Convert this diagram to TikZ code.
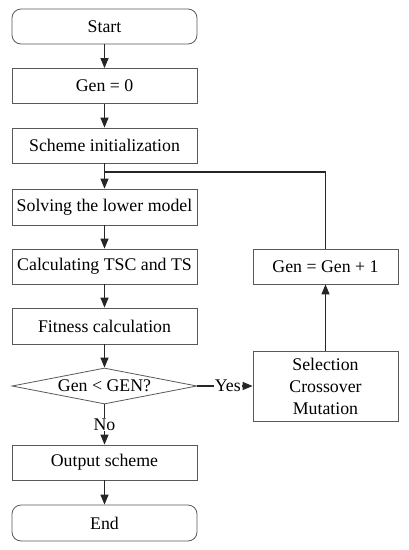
\documentclass[tikz,border=0pt]{standalone}
\usepackage{fontspec}
\setmainfont{Liberation Serif}
\usetikzlibrary{arrows.meta,shapes.geometric}
\begin{document}
\begin{tikzpicture}[x=1pt,y=-1pt,
  font=\fontsize{17.8}{22}\selectfont,
  box/.style={draw=black!65,line width=0.8pt,minimum width=185pt,minimum height=35pt,inner sep=0pt,align=center},
  term/.style={box,rounded corners=9pt},
  rbox/.style={box,minimum width=145pt},
  dec/.style={diamond,draw=black!65,line width=0.8pt,minimum width=185pt,minimum height=36pt,aspect=5.14,inner sep=0pt},
  conn/.style={draw=black!85,line width=1.2pt,-{Triangle[length=10pt,width=8pt]}},
  line/.style={draw=black!85,line width=1.2pt},
  lab/.style={fill=white,inner sep=1pt}]
\useasboundingbox (0,0) rectangle (408,550);
\node[term] (start) at (104.5,26.5) {Start};
\node[box] (gen0) at (104.5,86) {Gen = 0};
\node[box] (init) at (104.5,145.5) {Scheme initialization};
\node[box,minimum height=36pt] (solve) at (104.5,207) {Solving the lower model};
\node[box] (calc) at (104.5,266.5) {Calculating TSC and TS};
\node[box,minimum height=36pt] (fit) at (104.5,326) {Fitness calculation};
\node[dec] (cond) at (104.5,386) {Gen < GEN?};
\node[box] (out) at (104.5,462.5) {Output scheme};
\node[term,minimum height=36pt] (end) at (104.5,523) {End};
\node[rbox] (inc) at (325.5,266.5) {Gen = Gen + 1};
\node[rbox,minimum height=70pt] (sel) at (325.5,386) {Selection\\Crossover\\Mutation};
\coordinate (join) at (104.5,172);
\draw[conn] (start) -- (gen0);
\draw[conn] (gen0) -- (init);
\draw[conn] (init) -- (solve);
\draw[line] (inc.north) |- (join);
\draw[conn] (solve) -- (calc);
\draw[conn] (calc) -- (fit);
\draw[conn] (fit) -- (cond);
\draw[conn] (cond.east) -- node[lab,pos=0.55] {Yes} (sel.west);
\draw[conn] (cond.south) -- node[lab,pos=0.5] {No} (out.north);
\draw[conn] (out) -- (end);
\draw[conn] (sel) -- (inc);
\end{tikzpicture}
\end{document}
